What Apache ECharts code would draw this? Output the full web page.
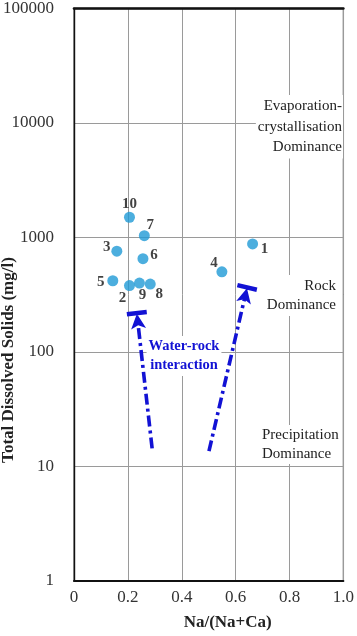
<!DOCTYPE html>
<html>
<head>
<meta charset="utf-8">
<script src="https://cdn.jsdelivr.net/npm/echarts@6/dist/echarts.min.js"></script>
<style>
html,body{margin:0;padding:0;background:#fff;}
#chart{width:357px;height:636px;}
</style>
</head>
<body>
<div id="chart"></div>
<script>
// ---- data ----
const samples = ['1', '2', '3', '4', '5', '6', '7', '8', '9', '10'];
const naRatio = [0.663, 0.206, 0.159, 0.549, 0.144, 0.256, 0.261, 0.283, 0.243, 0.206];
const tds = [879, 380, 760, 501, 419, 653, 1037, 392, 400, 1503];
const xTickLabels = ['0', '0.2', '0.4', '0.6', '0.8', '1.0'];
const yTickLabels = ['1', '10', '100', '1000', '10000', '100000'];
// water-rock interaction arrows: tail -> head
const arrowTail = [[0.290, 14.4], [0.501, 13.6]];
const arrowHead = [[0.236, 191], [0.637, 321]];

// ---- styles ----
const SERIF = '"Liberation Serif", "Times New Roman", serif';
const labelOffsets = {
  '1': [12, 5], '2': [-7, 13], '3': [-10, -4], '4': [-8, -9], '5': [-12, 1],
  '6': [11, -4], '7': [6, -11], '8': [9, 10], '9': [3, 12], '10': [0, -13]
};
const BLUE = '#1212d4';

const chart = echarts.init(document.getElementById('chart'), null, {renderer: 'canvas'});

const pointData = samples.map((s, i) => ({
  name: s,
  value: [naRatio[i], tds[i]],
  label: {offset: labelOffsets[s]}
}));

const arrowData = arrowTail.map((t, i) => [{coord: t}, {coord: arrowHead[i]}]);

const option = {
  animation: false,
  backgroundColor: '#fff',
  grid: {left: 72.7, right: 13.5, top: 7.5, bottom: 48.3, show: true, borderColor: '#666', borderWidth: 1.3},
  xAxis: [{
    type: 'value', min: 0, max: 1, interval: 0.2,
    axisLine: {show: true, onZero: false, lineStyle: {color: '#111', width: 2}},
    axisTick: {show: false},
    splitLine: {show: true, lineStyle: {color: '#9a9a9a', width: 1}},
    axisLabel: {
      margin: 8, color: '#333', fontFamily: SERIF, fontSize: 17,
      formatter: v => xTickLabels[Math.round(v / 0.2)]
    },
    name: 'Na/(Na+Ca)', nameLocation: 'middle', nameGap: 33,
    nameTextStyle: {fontFamily: SERIF, fontWeight: 'bold', fontSize: 17, color: '#222', padding: [0, 0, 0, 38]}
  }, {
    type: 'value', min: 0, max: 1, position: 'top',
    axisLine: {show: true, lineStyle: {color: '#111', width: 2.6}},
    axisTick: {show: false}, axisLabel: {show: false}, splitLine: {show: false}
  }],
  yAxis: [{
    type: 'log', logBase: 10, min: 1, max: 100000,
    axisLine: {show: true, onZero: false, lineStyle: {color: '#111', width: 1.4}},
    axisTick: {show: false},
    minorTick: {show: false},
    splitLine: {show: true, lineStyle: {color: '#9a9a9a', width: 1}},
    axisLabel: {
      margin: 20, color: '#333', fontFamily: SERIF, fontSize: 17,
      formatter: v => yTickLabels[Math.round(Math.log10(v))]
    }
  }],
  series: [{
    type: 'scatter',
    symbol: 'circle',
    symbolSize: 11,
    itemStyle: {color: '#1f9ad6'},
    z: 5,
    label: {
      show: true, position: 'inside', formatter: '{b}',
      fontFamily: SERIF, fontWeight: 'bold', fontSize: 15, color: '#111'
    },
    data: pointData,
    markLine: {
      silent: true,
      animation: false,
      symbol: ['none', 'path://M0,0L20,0L20,4.5L0,4.5Z M10,3L17.5,18L10,14.5L2.5,18Z'],
      symbolSize: [20, 18],
      label: {show: false},
      emphasis: {disabled: true},
      lineStyle: {color: BLUE, width: 3.6, type: [11, 4, 3, 4], opacity: 1},
      itemStyle: {color: BLUE},
      data: arrowData
    }
  }],
  graphic: [
    {
      type: 'text', x: 9, y: 360, rotation: Math.PI / 2, z: 10,
      style: {text: 'Total Dissolved Solids (mg/l)', font: 'bold 17px ' + SERIF, fill: '#222', align: 'center', verticalAlign: 'middle'}
    },
    {
      type: 'text', x: 343, y: 95, z: 3,
      style: {text: 'Evaporation-\ncrystallisation\nDominance', font: '15px ' + SERIF, fill: '#222',
        align: 'right', verticalAlign: 'top', lineHeight: 20.5, backgroundColor: '#fff', padding: [1, 1, 1, 2]}
    },
    {
      type: 'text', x: 338, y: 275, z: 3,
      style: {text: 'Rock\nDominance', font: '15px ' + SERIF, fill: '#222',
        align: 'right', verticalAlign: 'top', lineHeight: 19.5, backgroundColor: '#fff', padding: [1, 2, 1, 2]}
    },
    {
      type: 'text', x: 260, y: 425, z: 3,
      style: {text: 'Precipitation\nDominance', font: '15px ' + SERIF, fill: '#222',
        align: 'left', verticalAlign: 'top', lineHeight: 18.5, backgroundColor: '#fff', padding: [1, 2, 1, 2]}
    },
    {
      type: 'text', x: 184, y: 336, z: 3,
      style: {text: 'Water-rock\ninteraction', font: 'bold 14.5px ' + SERIF, fill: BLUE,
        align: 'center', verticalAlign: 'top', lineHeight: 19, backgroundColor: '#fff', padding: [1, 2, 1, 2]}
    }
  ]
};
chart.setOption(option);
</script>
</body>
</html>
